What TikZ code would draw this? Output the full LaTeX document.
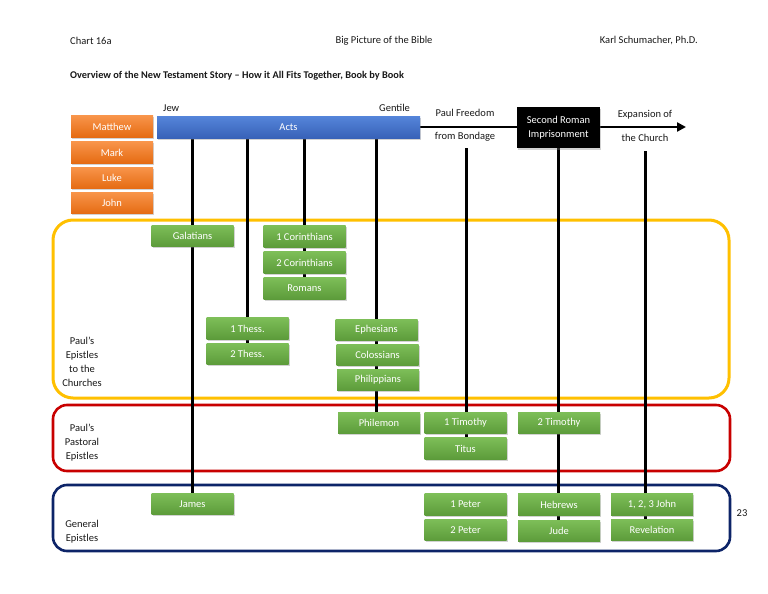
\documentclass[tikz,border=0pt]{standalone}
\usepackage{fontspec}
\setmainfont{Carlito}
\usetikzlibrary{shadows,arrows.meta,backgrounds}
\definecolor{gtop}{HTML}{7DBE58}
\definecolor{gbot}{HTML}{5C9B3A}
\definecolor{otop}{HTML}{F8954A}
\definecolor{obot}{HTML}{E56A12}
\definecolor{btop}{HTML}{5585DA}
\definecolor{bbot}{HTML}{3862B8}
\definecolor{fyellow}{HTML}{FFC000}
\definecolor{fred}{HTML}{C80000}
\definecolor{fnavy}{HTML}{0D2468}
\begin{document}
\begin{tikzpicture}[x=1pt,y=-1pt,
  txt/.style={font=\fontsize{10.5}{12}\selectfont, inner sep=0pt, text=black!90},
  bookbox/.style={rectangle, minimum width=82pt, minimum height=21.5pt, inner sep=0pt,
     text=white, font=\fontsize{10.5}{12}\selectfont, top color=gtop, bottom color=gbot,
     drop shadow={opacity=0.35, shadow xshift=1pt, shadow yshift=-1.5pt}},
  gospel/.style={bookbox, top color=otop, bottom color=obot},
  actsbox/.style={bookbox, minimum width=263pt, minimum height=22pt, top color=btop, bottom color=bbot},
  conn/.style={line width=3pt, black},
  frame/.style={line width=3pt, rounded corners=#1},
  grouplabel/.style={txt, align=center, font=\fontsize{10.5}{14}\selectfont}
]
\useasboundingbox (0,0) rectangle (768,594);

% header
\node[txt, anchor=west] (chart) at (70,41) {Chart 16a};
\node[txt] (big) at (384,41) {Big Picture of the Bible};
\node[txt, anchor=east] (auth) at (698,41) {Karl Schumacher, Ph.D.};
\node[txt, anchor=west, font=\bfseries\fontsize{10.3}{12}\selectfont] (title) at (70,76)
  {Overview of the New Testament Story – How it All Fits Together, Book by Book};

% top labels
\node[txt, anchor=west] (jew) at (163,108) {Jew};
\node[txt, anchor=west] (gent) at (379,108) {Gentile};
\node[txt] (pf1) at (465,113) {Paul Freedom};
\node[txt] (pf2) at (465,137) {from Bondage};
\node[txt] (ex1) at (645,115) {Expansion of};
\node[txt] (ex2) at (645,138) {the Church};

% gospels and Acts
\node[gospel] (mat) at (112,126.5) {Matthew};
\node[gospel] (mar) at (112,152.5) {Mark};
\node[gospel] (luk) at (112,178) {Luke};
\node[gospel] (joh) at (112,203) {John};
\node[actsbox] (acts) at (288.5,127) {Acts};

% books
\node[bookbox] (gal) at (192.5,236) {Galatians};
\node[bookbox] (cor1) at (304.5,236.5) {1 Corinthians};
\node[bookbox] (cor2) at (304.5,262.5) {2 Corinthians};
\node[bookbox] (rom) at (304.5,288.5) {Romans};
\node[bookbox] (th1) at (247.5,328.5) {1 Thess.};
\node[bookbox] (th2) at (247.5,354) {2 Thess.};
\node[bookbox] (eph) at (376.5,330) {Ephesians};
\node[bookbox] (col) at (377.5,355) {Colossians};
\node[bookbox] (phi) at (378,380) {Philippians};
\node[bookbox] (phm) at (379,423) {Philemon};
\node[bookbox] (tim1) at (465.5,423) {1 Timothy};
\node[bookbox] (tit) at (465.5,448.5) {Titus};
\node[bookbox] (tim2) at (559,423) {2 Timothy};
\node[bookbox] (jam) at (192.5,504) {James};
\node[bookbox] (pet1) at (465.5,504.5) {1 Peter};
\node[bookbox] (pet2) at (465.5,530) {2 Peter};
\node[bookbox] (heb) at (559,504.5) {Hebrews};
\node[bookbox] (jud) at (559,531) {Jude};
\node[bookbox] (jn) at (652,504.5) {1, 2, 3 John};
\node[bookbox] (rev) at (652,530) {Revelation};

% second Roman imprisonment
\node[rectangle, fill=black, minimum width=83pt, minimum height=41pt, inner sep=0pt,
  text=white, align=center, font=\fontsize{10.5}{14}\selectfont,
  drop shadow={opacity=0.35, shadow xshift=1pt, shadow yshift=-1.5pt}] (sri) at (558.5,127.5)
  {Second Roman\\Imprisonment};

% group labels
\node[grouplabel] (g1) at (82,362) {Paul’s\\Epistles\\to the\\Churches};
\node[grouplabel] (g2) at (82,443) {Paul’s\\Pastoral\\Epistles};
\node[grouplabel] (g3) at (82,532) {General\\Epistles};
\node[txt] (pg) at (742,513) {23};

\coordinate (t1top) at (466.5,148);
\coordinate (extop) at (645.5,151);
\coordinate (arrend) at (686,127);

\begin{scope}[on background layer]
  \fill[white] (0,0) rectangle (768,594);
  \draw[frame=20, fyellow] (53,220) rectangle (729,398);
  \draw[frame=14, fred, line width=2.6pt] (53,405) rectangle (730,471);
  \draw[frame=14, fnavy, line width=2.6pt] (53,485) rectangle (730,551);
  \draw[conn] (gal.center |- acts.south) -- (jam.north);
  \draw[conn] (th1.center |- acts.south) -- (th2.center);
  \draw[conn] (cor1.center |- acts.south) -- (rom.center);
  \draw[conn] (eph.center |- acts.south) -- (eph.center |- phm.center);
  \draw[conn] (t1top) -- (t1top |- tit.center);
  \draw[conn] (sri.south) -- (sri.south |- jud.center);
  \draw[conn] (extop) -- (extop |- rev.center);
  \draw[line width=2.6pt, -{Triangle[length=9pt,width=9pt]}] (acts.east) -- (arrend);
\end{scope}
\end{tikzpicture}
\end{document}
